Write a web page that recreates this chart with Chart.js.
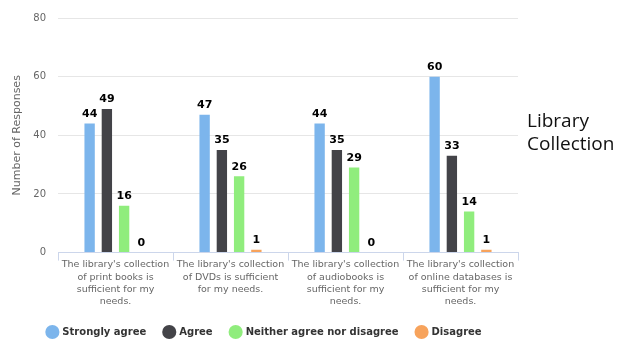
<!DOCTYPE html>
<html>
<head>
<meta charset="utf-8">
<script src="https://cdn.jsdelivr.net/npm/chart.js@4/dist/chart.umd.min.js"></script>
<style>
  html, body { margin: 0; padding: 0; background: #fff; }
  #wrap { position: relative; width: 638px; height: 359px; }
  #title { position: absolute; left: 527px; top: 109px; font-family: "Open Sans", sans-serif; font-size: 19px; line-height: 23px; color: #111; }
</style>
</head>
<body>
<div id="wrap">
  <canvas id="c" width="638" height="359"></canvas>
  <div id="title">Library<br>Collection</div>
</div>
<script>
const categories = [
  ["The library's collection", "of print books is", "sufficient for my", "needs."],
  ["The library's collection", "of DVDs is sufficient", "for my needs."],
  ["The library's collection", "of audiobooks is", "sufficient for my", "needs."],
  ["The library's collection", "of online databases is", "sufficient for my", "needs."]
];
const seriesNames = ["Strongly agree", "Agree", "Neither agree nor disagree", "Disagree"];
const stronglyAgree = [44, 47, 44, 60];
const agree = [49, 35, 35, 33];
const neither = [16, 26, 29, 14];
const disagree = [0, 1, 0, 1];
const yTicks = [0, 20, 40, 60, 80];
const colors = ["#7cb5ec", "#434348", "#90ed7d", "#f7a35c"];

const valueLabels = {
  id: 'valueLabels',
  afterDatasetsDraw(chart) {
    const ctx = chart.ctx;
    ctx.save();
    ctx.font = 'bold 11px "DejaVu Sans", sans-serif';
    ctx.fillStyle = '#000';
    ctx.textAlign = 'center';
    ctx.textBaseline = 'bottom';
    chart.data.datasets.forEach((ds, i) => {
      const meta = chart.getDatasetMeta(i);
      meta.data.forEach((el, j) => {
        ctx.fillText(String(ds.data[j]), el.x, el.y - 4);
      });
    });
    ctx.restore();
  }
};

const allSeries = [stronglyAgree, agree, neither, disagree];
new Chart(document.getElementById('c'), {
  type: 'bar',
  data: {
    labels: categories,
    datasets: allSeries.map((d, i) => ({
      label: seriesNames[i],
      data: d,
      backgroundColor: colors[i],
      borderWidth: 0,
      categoryPercentage: 0.6,
      barPercentage: 0.6
    }))
  },
  options: {
    responsive: false,
    animation: false,
    layout: { padding: { top: 6, right: 120, bottom: 12, left: 11 } },
    plugins: {
      legend: {
        position: 'bottom',
        labels: {
          usePointStyle: true,
          pointStyle: 'circle',
          boxWidth: 10,
          boxHeight: 10,
          padding: 18,
          color: '#333',
          font: { family: '"DejaVu Sans", sans-serif', size: 10, weight: 'bold' }
        }
      },
      tooltip: { enabled: false },
      title: { display: false }
    },
    scales: {
      x: {
        afterFit(axis) { axis.height += 3; },
        grid: { offset: true, drawOnChartArea: false, color: '#ccd6eb', tickLength: 8, tickColor: '#ccd6eb' },
        border: { display: true, color: '#ccd6eb' },
        ticks: { color: '#666', font: { family: '"DejaVu Sans", sans-serif', size: 9.5, lineHeight: 1.3 }, maxRotation: 0, autoSkip: false, padding: -2 }
      },
      y: {
        min: 0, max: 80,
        afterBuildTicks(axis) { axis.ticks = yTicks.map(v => ({ value: v })); },
        afterFit(axis) { axis.width = 47; },
        grid: { color: '#e6e6e6', drawTicks: false },
        border: { display: false },
        ticks: { color: '#666', font: { family: '"DejaVu Sans", sans-serif', size: 10 }, padding: 12 },
        title: { display: true, text: 'Number of Responses', color: '#666', padding: { top: 0, bottom: 0 }, font: { family: '"DejaVu Sans", sans-serif', size: 11 } }
      }
    }
  },
  plugins: [valueLabels]
});
</script>
</body>
</html>
